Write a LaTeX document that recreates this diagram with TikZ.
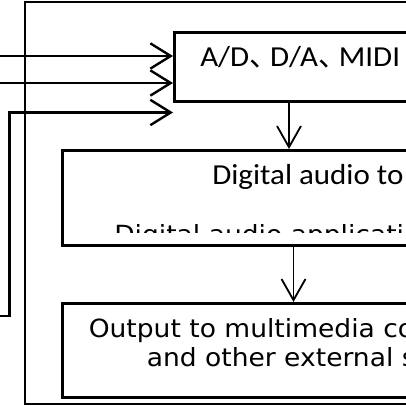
\documentclass[tikz,border=0pt]{standalone}
\usepackage{fontspec}
\usetikzlibrary{arrows.meta}
\newfontfamily\calfont[FakeStretch=1.07]{Carlito}
\newfontfamily\dvfont[FakeStretch=1.06]{DejaVu Sans}
\newfontfamily\cjkfont{Noto Sans CJK SC}
\newcommand{\dunhao}{\makebox[0.72em][l]{\cjkfont 、}}

\begin{document}
\begin{tikzpicture}[x=0.025cm, y=-0.025cm,
    box/.style={draw, line width=2.1pt, rectangle, anchor=north west, inner sep=0},
    txt/.style={anchor=base west, inner sep=0},
    caltxt/.style={txt, font=\calfont\fontsize{20.6pt}{22pt}\selectfont},
    dvtxt/.style={txt, font=\dvfont\fontsize{17.8pt}{20pt}\selectfont},
    inarrow/.style={line width=1.8pt, -{Straight Barb[length=14.5pt, width=18pt, line width=1.7pt]}},
    downarrow/.style={line width=1.3pt, -{Straight Barb[length=15pt, width=17pt, line width=1.3pt]}}]
  \useasboundingbox (0,0) rectangle (406,406);
  \clip (0,0) rectangle (406,406);

  % outer frame
  \draw[line width=2.1pt] (460,2) -- (25,2) -- (25,404) -- (460,404);

  % boxes
  \node[box, minimum width=7.2cm, minimum height=1.725cm] (ad) at (173,31) {};
  \node[box, minimum width=10cm, minimum height=2.375cm] (dig) at (61,149) {};
  \node[box, minimum width=10cm, minimum height=2.36cm] (out) at (61,302) {};

  % texts
  \node[caltxt] (adtxt) at (200,67) {A/D\dunhao D/A\dunhao MIDI};
  \node[caltxt] (digtxt) at (212,185) {Digital audio to};
  \begin{scope}
    \clip (61,149) rectangle (460,232);
    \node[dvtxt] (digtxtb) at (114,243) {Digital audio applicatio};
  \end{scope}
  \node[dvtxt] (outtxt) at (88.5,337) {Output to multimedia co};
  \node[dvtxt] (outtxtb) at (146.5,366) {and other external s};

  % inputs
  \coordinate (in1) at (0,56);
  \coordinate (in2) at (0,83);
  \coordinate (in3) at (0,316);
  \coordinate (bend) at (9.5,112.5);
  \draw[inarrow] (in1) -- (in1 -| ad.west);
  \draw[inarrow] (in2) -- (in2 -| ad.west);
  \draw[inarrow] (in3) -| (bend) -- (bend -| ad.west);

  % flow
  \coordinate (d1) at (289,0);
  \coordinate (d2) at (293.5,0);
  \draw[downarrow] (d1 |- ad.south) -- (d1 |- dig.north);
  \draw[downarrow] (d2 |- dig.south) -- (d2 |- out.north);
\end{tikzpicture}
\end{document}
